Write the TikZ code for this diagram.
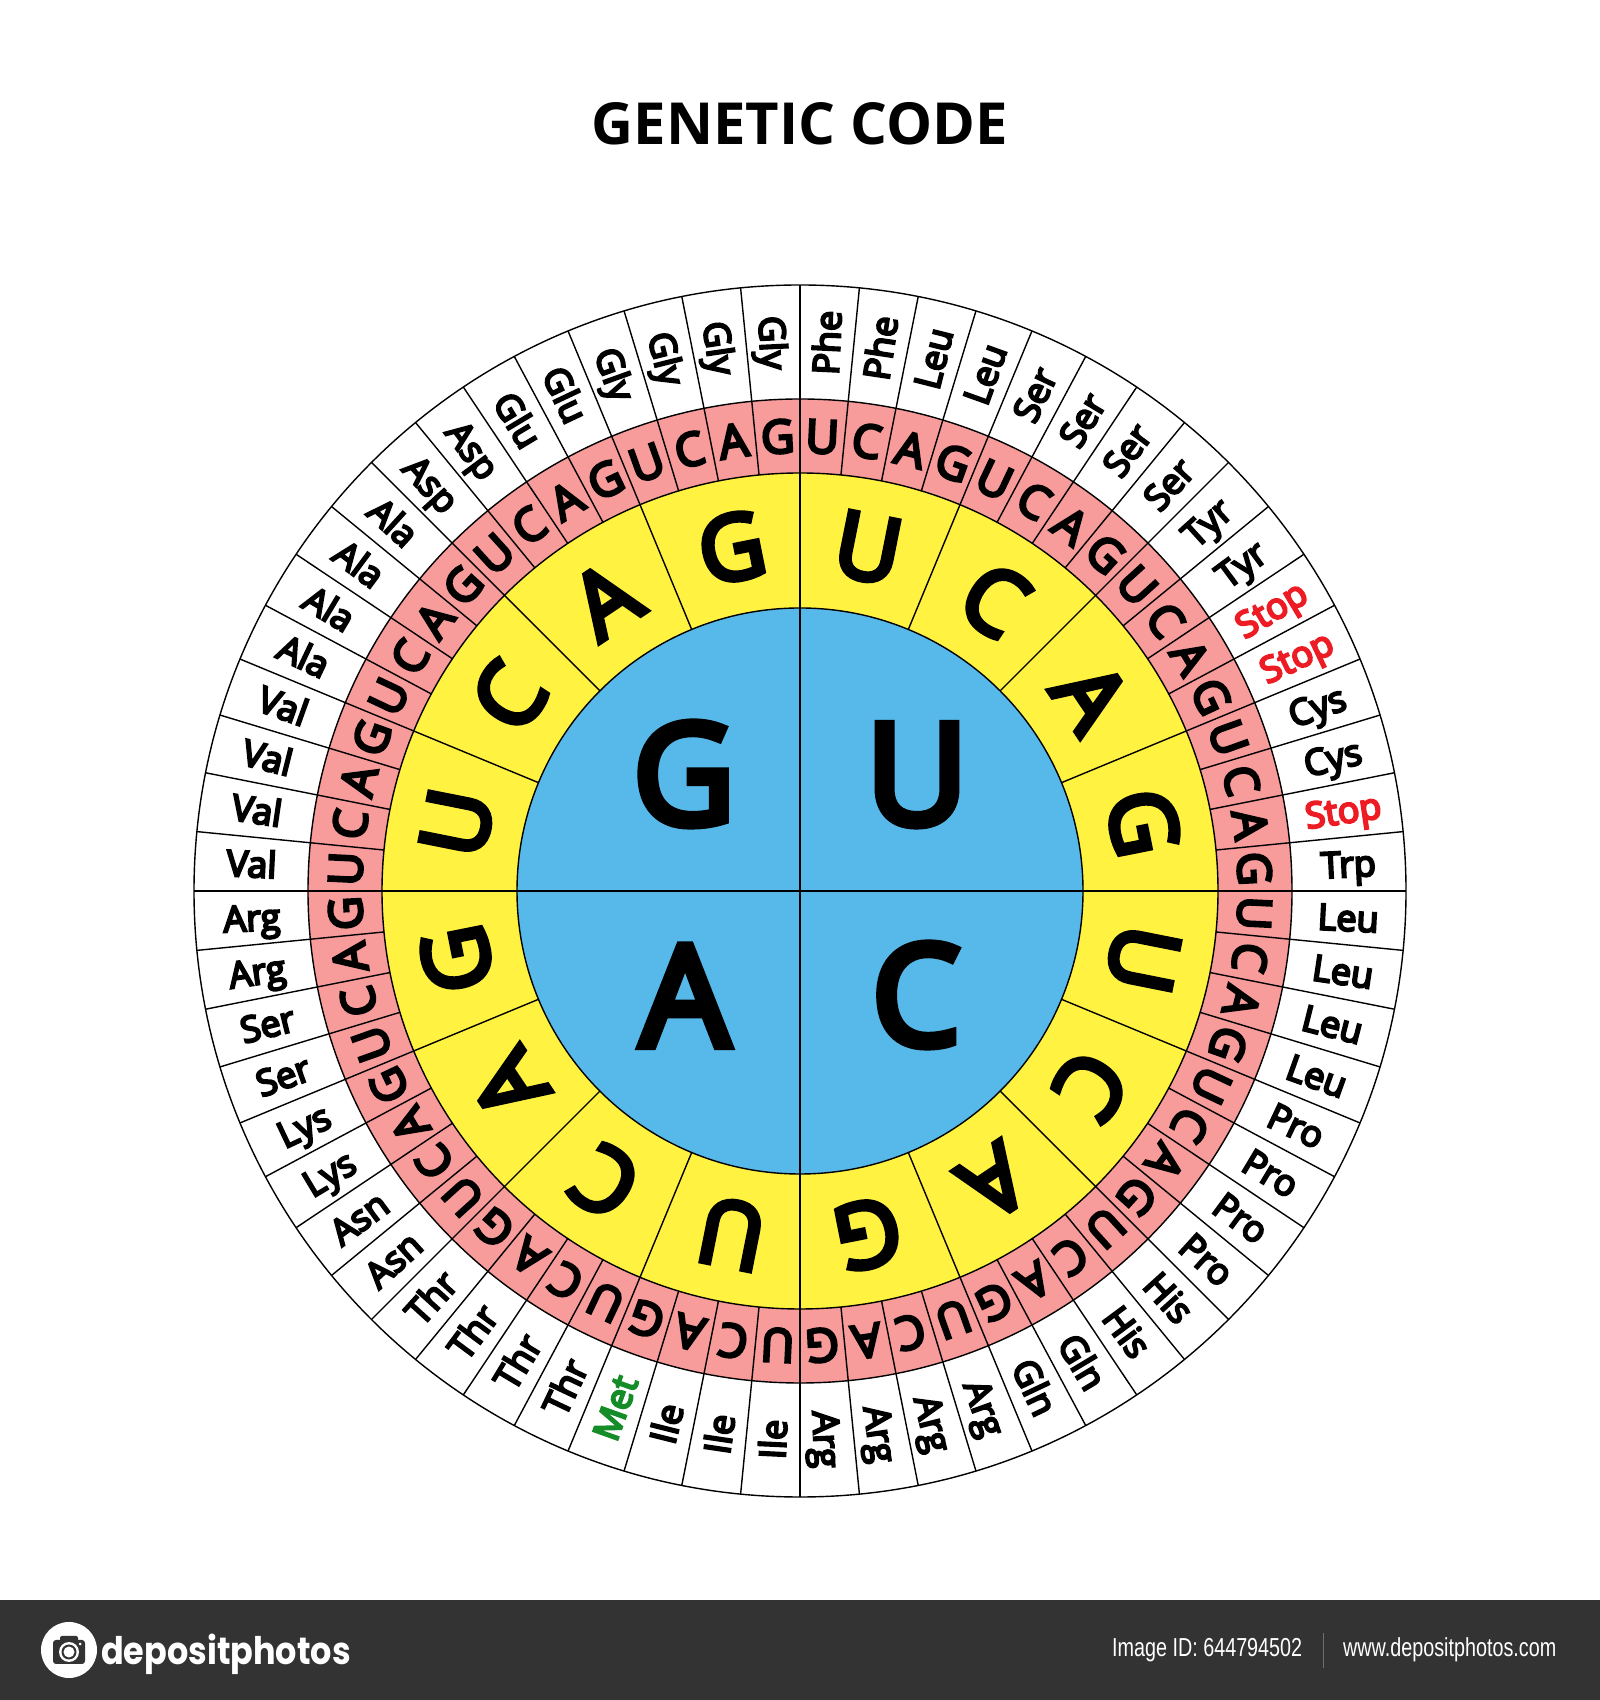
\documentclass[tikz,border=0pt]{standalone}
\usepackage{fontspec}
\setmainfont{Open Sans}
\newfontfamily\semi[FakeBold=6]{Open Sans}
\newfontfamily\lsans{Liberation Sans}
\newfontfamily\popfont{Poppins}
\definecolor{cblue}{RGB}{86,185,233}
\definecolor{cyellow}{RGB}{255,242,64}
\definecolor{cpink}{RGB}{248,155,155}
\definecolor{cred}{RGB}{237,28,36}
\definecolor{cgreen}{RGB}{20,140,40}
\definecolor{cbar}{RGB}{51,51,51}
\definecolor{csep}{RGB}{110,110,110}
\begin{document}
\begin{tikzpicture}[x=1pt,y=1pt,
  rline/.style={draw=black,line width=1.4pt},
  lab/.style={font=\semi\fontsize{36}{40}\selectfont, inner sep=0pt, text height=26pt, text depth=0pt},
  pinkl/.style={font=\semi\fontsize{46}{50}\selectfont, inner sep=0pt, text height=33pt, text depth=0pt},
  yell/.style={font=\semi\fontsize{90}{96}\selectfont, inner sep=0pt, text height=64pt, text depth=0pt},
  big/.style={font=\semi\fontsize{140}{150}\selectfont, inner sep=0pt, text height=100pt, text depth=0pt}]
\useasboundingbox (0,0) rectangle (1600,1700);
\fill[white] (0,0) rectangle (1600,1700);
% title
\node[font=\fontsize{58}{60}\selectfont\bfseries, inner sep=0pt, text height=41.5pt, text depth=0pt] (title) at (800,1576) {GENETIC CODE};
\begin{scope}[shift={(800,809)}]
  \fill[white] (0,0) circle (606);
  \fill[cpink] (0,0) circle (492);
  \fill[cyellow] (0,0) circle (418);
  \fill[cblue] (0,0) circle (283);
  % radial lines
  \foreach \k in {0,...,63}
    \draw[rline] ({90-5.625*\k}:418) -- ({90-5.625*\k}:606);
  \foreach \k in {0,...,15}
    \draw[rline] ({90-22.5*\k}:283) -- ({90-22.5*\k}:418);
  \draw[rline] (0,-283) -- (0,283);
  \draw[rline] (-283,0) -- (283,0);
  \foreach \r in {283,418,492,606}
    \draw[rline] (0,0) circle (\r);
  % amino acids
  \foreach \aa/\cc [count=\k from 0] in {Phe/black,Phe/black,Leu/black,Leu/black,Ser/black,Ser/black,Ser/black,Ser/black,Tyr/black,Tyr/black,Stop/cred,Stop/cred,Cys/black,Cys/black,Stop/cred,Trp/black,
    Leu/black,Leu/black,Leu/black,Leu/black,Pro/black,Pro/black,Pro/black,Pro/black,His/black,His/black,Gln/black,Gln/black,Arg/black,Arg/black,Arg/black,Arg/black,
    Ile/black,Ile/black,Ile/black,Met/cgreen,Thr/black,Thr/black,Thr/black,Thr/black,Asn/black,Asn/black,Lys/black,Lys/black,Ser/black,Ser/black,Arg/black,Arg/black,
    Val/black,Val/black,Val/black,Val/black,Ala/black,Ala/black,Ala/black,Ala/black,Asp/black,Asp/black,Glu/black,Glu/black,Gly/black,Gly/black,Gly/black,Gly/black}
  {
    \pgfmathsetmacro\ang{90-5.625*(\k+0.5)}
    \pgfmathsetmacro\rot{cos(\ang)>0 ? \ang : \ang+180}
    \node[lab, text=\cc, rotate=\rot] (aa\k) at (\ang:549) {\aa};
  }
  % third base ring
  \foreach \q in {0,...,15}
    \foreach \b [count=\j from 0] in {U,C,A,G} {
      \pgfmathsetmacro\ang{90-5.625*(4*\q+\j+0.5)}
      \node[pinkl, rotate=\ang-90] (t\q\b) at (\ang:455) {\b};
    }
  % second base ring
  \foreach \q in {0,...,3}
    \foreach \b [count=\j from 0] in {U,C,A,G} {
      \pgfmathsetmacro\ang{90-22.5*(4*\q+\j+0.5)}
      \node[yell, rotate=\ang-90] (s\q\b) at (\ang:350) {\b};
    }
  % first base
  \node[big] (fG) at (-116,117) {G};
  \node[big] (fU) at (117,117) {U};
  \node[big] (fA) at (-115,-105) {A};
  \node[big] (fC) at (116,-104) {C};
\end{scope}
% bottom bar
\fill[cbar] (0,0) rectangle (1600,100);
\fill[white] (69,50) circle (28);
\fill[cbar, rounded corners=3pt] (53,36) rectangle (85,60);
\fill[cbar, rounded corners=2pt] (60,57) rectangle (78,64);
\fill[white] (69,48) circle (10);
\fill[cbar] (69,48) circle (7.5);
\fill[white] (69,48) circle (5.5);
\fill[white] (80,56) circle (1.5);
\node[font=\popfont\fontsize{38}{40}\selectfont\bfseries, text=white, inner sep=0pt, anchor=base west, xscale=0.88] (logo) at (101,35) {depositphotos};
\node[font=\lsans\fontsize{26}{28}\selectfont, text=white, inner sep=0pt, anchor=west, xscale=0.76] (imgid) at (1112,50) {Image ID: 644794502};
\coordinate (sepT) at (1323,67);
\coordinate (sepB) at (1323,32);
\draw[csep, line width=0.8pt] (sepT) -- (sepB);
\node[font=\lsans\fontsize{26}{28}\selectfont, text=white, inner sep=0pt, anchor=west, xscale=0.76] (www) at (1343,50) {www.depositphotos.com};
\end{tikzpicture}
\end{document}
